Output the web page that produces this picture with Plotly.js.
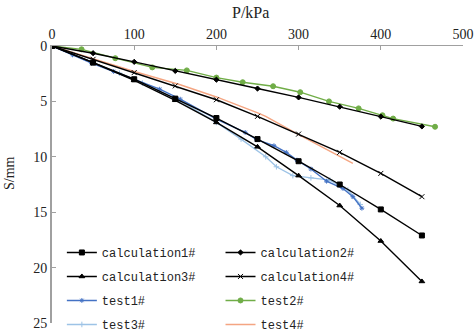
<!DOCTYPE html>
<html><head><meta charset="utf-8">
<script src="https://cdn.plot.ly/plotly-3.0.1.min.js"></script>
<style>html,body{margin:0;padding:0;background:#fff}#chart{width:474px;height:332px}</style>
</head><body><div id="chart"></div>
<script>
const calcP = [0, 50, 100, 150, 200, 250, 300, 350, 400, 450];
const calc1S = [0, 1.5, 3.0, 4.75, 6.5, 8.4, 10.4, 12.5, 14.75, 17.1];
const calc2S = [0, 0.65, 1.43, 2.25, 3.04, 3.84, 4.64, 5.48, 6.37, 7.26];
const calc3S = [0, 1.5, 3.1, 4.9, 6.9, 9.1, 11.7, 14.4, 17.6, 21.25];
const calc4S = [0, 1.2, 2.4, 3.6, 4.85, 6.35, 7.95, 9.6, 11.5, 13.6];
const test1P = [0, 25, 48, 75, 100, 131, 156, 200, 235, 249, 270, 285, 298, 315, 334, 354, 366, 377];
const test1S = [0, 0.8, 1.55, 2.3, 3.0, 3.9, 4.8, 6.6, 7.8, 8.45, 9.0, 9.6, 10.3, 11.1, 12.2, 12.86, 13.6, 14.64];
const test2P = [0, 36, 77, 122, 164, 200, 232, 269, 302, 337, 373, 402, 415, 466];
const test2S = [0, 0.3, 1.1, 1.93, 2.2, 2.85, 3.27, 3.63, 4.17, 5.0, 5.63, 6.25, 6.55, 7.29];
const test3P = [0, 25, 50, 82, 110, 156, 200, 230, 260, 273, 293, 315, 338, 360, 375];
const test3S = [0, 0.75, 1.45, 2.45, 3.35, 4.97, 6.9, 8.4, 10.0, 10.9, 11.7, 11.9, 12.1, 13.0, 14.3];
const test4P = [0, 50, 100, 156, 200, 251, 260, 299, 350, 366];
const test4S = [0, 1.15, 2.3, 3.5, 4.6, 6.05, 6.35, 7.95, 10.0, 10.6];
const names = ["calculation1#", "calculation2#", "calculation3#", "calculation4#", "test1#", "test2#", "test3#", "test4#"];

function tr(i, x, y, color, symbol, msize, legend, rank) {
  return {
    x: x, y: y, name: names[i], type: "scatter",
    mode: symbol ? "lines+markers" : "lines",
    line: {color: color, width: 1.4},
    marker: {symbol: symbol || "circle", size: msize, color: color, line: {color: color, width: 1}},
    legend: legend, legendgroup: "g" + i, legendrank: rank
  };
}
const data = [
  tr(6, test3P, test3S, "#9DC3E6", "cross-thin-open", 4, "legend", 4),
  tr(7, test4P, test4S, "#F4A582", null, 0, "legend2", 4),
  tr(4, test1P, test1S, "#4472C4", "asterisk-open", 4, "legend", 3),
  tr(5, test2P, test2S, "#70AD47", "circle", 5, "legend2", 3),
  tr(0, calcP, calc1S, "#000000", "square", 5, "legend", 1),
  tr(1, calcP, calc2S, "#000000", "diamond", 4, "legend2", 1),
  tr(2, calcP, calc3S, "#000000", "triangle-up", 5, "legend", 2),
  tr(3, calcP, calc4S, "#000000", "x-thin-open", 5, "legend2", 2)
];
const serif = "Liberation Serif";
const legFont = {family: "Liberation Mono", size: 12, color: "#222"};
const layout = {
  width: 474, height: 332,
  margin: {l: 52, r: 11, t: 46, b: 9, autoexpand: false},
  paper_bgcolor: "#fff", plot_bgcolor: "#fff",
  showlegend: true,
  font: {family: serif, size: 14, color: "#222"},
  xaxis: {
    range: [0, 500], side: "top", dtick: 100, showgrid: false, zeroline: false,
    showline: true, linecolor: "#a0a0a0", linewidth: 1.5,
    ticks: "inside", ticklen: 4, tickcolor: "#a0a0a0", ticklabeloverflow: "allow",
    tickfont: {family: serif, size: 14, color: "#222"}
  },
  yaxis: {
    range: [25, 0], dtick: 5, showgrid: false, zeroline: false,
    showline: true, linecolor: "#a0a0a0", linewidth: 2,
    ticks: "inside", ticklen: 4, tickcolor: "#a0a0a0", ticklabeloverflow: "allow",
    tickfont: {family: serif, size: 14, color: "#222"}
  },
  legend: {x: 0.024, y: 0.307, xanchor: "left", yanchor: "top", bgcolor: "rgba(0,0,0,0)",
    font: legFont, traceorder: "grouped", tracegroupgap: 5, itemwidth: 30},
  legend2: {x: 0.41, y: 0.307, xanchor: "left", yanchor: "top", bgcolor: "rgba(0,0,0,0)",
    font: legFont, traceorder: "grouped", tracegroupgap: 5, itemwidth: 30},
  annotations: [
    {text: "P/kPa", xref: "paper", yref: "paper", x: (250 - 52) / 411, y: 1 + (46 - 12) / 277,
     xanchor: "center", yanchor: "middle", showarrow: false, font: {family: serif, size: 16, color: "#222"}},
    {text: "S/mm", xref: "paper", yref: "paper", x: (9 - 52) / 411, y: (323 - 173) / 277,
     xanchor: "center", yanchor: "middle", textangle: -90, showarrow: false, font: {family: serif, size: 14, color: "#222"}}
  ]
};
Plotly.newPlot("chart", data, layout, {displayModeBar: false, staticPlot: true});
</script></body></html>
